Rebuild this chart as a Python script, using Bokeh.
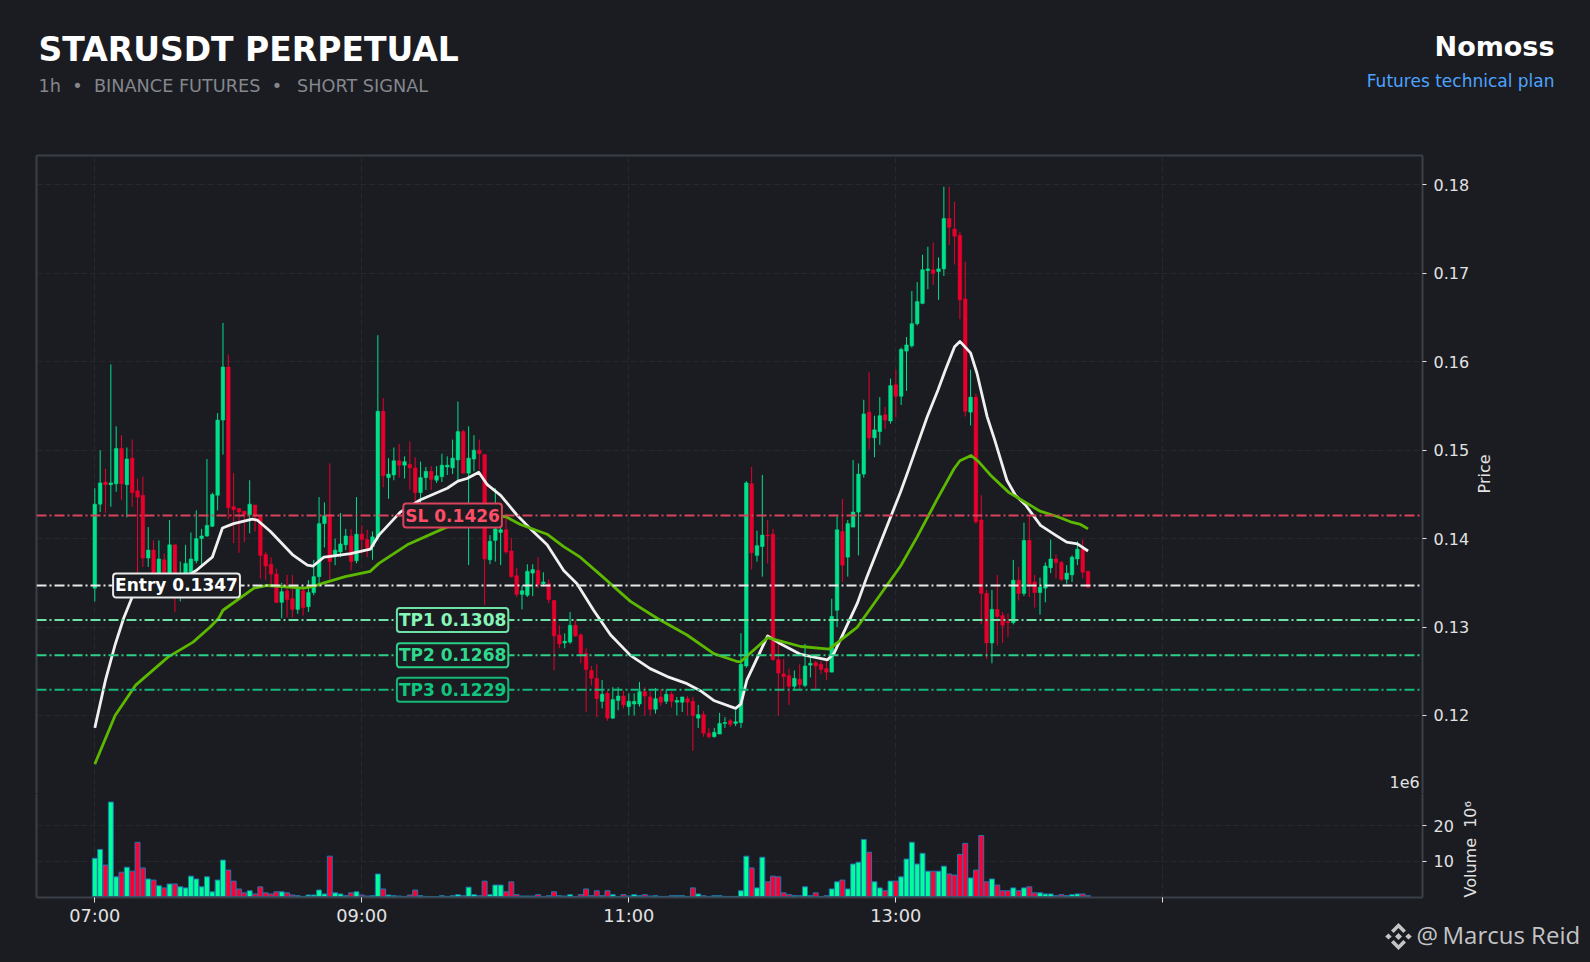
import math
from bokeh.plotting import figure
from bokeh.layouts import column
from bokeh.models import Range1d, FixedTicker, LinearAxis, Label, Span, NumeralTickFormatter, ColumnDataSource
from bokeh.core.properties import value
from bokeh.embed import file_html
from bokeh.resources import INLINE

# ---- data ----
opens = [.1344,.1439,.1464,.1461,.1462,.1502,.1461,.1491,.1454,.1449,.1378,.1387,.1360,.1376,.1350,.1393,.1345,.1355,.1358,.1375,
 .1400,.1403,.1414,.1449,.1534,.1594,.1436,.1434,.1431,.1427,.1438,.1425,.1382,.1371,.1360,.1328,.1341,.1332,.1320,.1341,
 .1323,.1339,.1357,.1417,.1427,.1381,.1385,.1393,.1403,.1375,.1405,.1399,.1391,.1402,.1544,.1469,.1472,.1488,.1483,.1484,
 .1480,.1452,.1469,.1476,.1466,.1470,.1481,.1480,.1489,.1521,.1474,.1490,.1500,.1495,.1376,.1398,.1407,.1410,.1386,.1358,
 .1337,.1336,.1361,.1364,.1349,.1349,.1330,.1291,.1282,.1283,.1302,.1291,.1270,.1251,.1242,.1216,.1225,.1197,.1217,.1222,
 .1210,.1213,.1213,.1227,.1221,.1207,.1221,.1216,.1224,.1215,.1215,.1219,.1216,.1197,.1201,.1180,.1176,.1179,.1191,.1194,
 .1191,.1192,.1256,.1462,.1381,.1391,.1404,.1405,.1263,.1247,.1245,.1233,.1241,.1234,.1257,.1260,.1258,.1253,.1249,.1319,
 .1408,.1379,.1413,.1430,.1473,.1543,.1514,.1521,.1540,.1533,.1574,.1561,.1612,.1618,.1643,.1666,.1703,.1704,.1702,.1705,
 .1762,.1750,.1743,.1671,.1543,.1560,.1421,.1338,.1282,.1320,.1313,.1306,.1305,.1353,.1338,.1398,.1351,.1339,.1344,.1367,
 .1377,.1373,.1354,.1359,.1377,.1388,.1363]
highs = [.1457,.1500,.1479,.1597,.1527,.1517,.1503,.1512,.1468,.1470,.1413,.1398,.1398,.1383,.1421,.1393,.1374,.1393,.1407,.1432,
 .1411,.1490,.1452,.1542,.1644,.1608,.1474,.1434,.1431,.1466,.1438,.1427,.1385,.1379,.1366,.1350,.1359,.1359,.1347,.1345,
 .1353,.1376,.1447,.1441,.1485,.1400,.1429,.1411,.1411,.1447,.1415,.1410,.1408,.1630,.1559,.1491,.1503,.1507,.1493,.1510,
 .1492,.1487,.1481,.1482,.1482,.1496,.1493,.1512,.1555,.1523,.1527,.1517,.1512,.1495,.1404,.1457,.1415,.1428,.1401,.1367,
 .1347,.1371,.1371,.1379,.1362,.1354,.1330,.1302,.1293,.1317,.1308,.1293,.1276,.1256,.1258,.1240,.1228,.1232,.1232,.1228,
 .1225,.1225,.1238,.1232,.1227,.1231,.1230,.1230,.1227,.1221,.1221,.1222,.1221,.1212,.1205,.1186,.1186,.1203,.1198,.1196,
 .1206,.1293,.1465,.1481,.1409,.1472,.1421,.1411,.1283,.1264,.1253,.1251,.1258,.1281,.1268,.1262,.1262,.1262,.1332,.1425,
 .1445,.1421,.1489,.1485,.1557,.1588,.1539,.1560,.1549,.1581,.1591,.1616,.1628,.1680,.1690,.1721,.1730,.1735,.1718,.1798,
 .1798,.1781,.1747,.1713,.1591,.1564,.1449,.1342,.1342,.1359,.1317,.1315,.1376,.1368,.1418,.1425,.1359,.1356,.1373,.1399,
 .1382,.1375,.1370,.1381,.1397,.1399,.1364]
lows = [.1329,.1430,.1429,.1436,.1453,.1444,.1424,.1436,.1355,.1368,.1368,.1350,.1350,.1348,.1340,.1317,.1329,.1345,.1345,.1372,
 .1368,.1402,.1413,.1432,.1495,.1422,.1395,.1384,.1396,.1406,.1408,.1355,.1353,.1347,.1327,.1310,.1311,.1311,.1315,.1313,
 .1317,.1336,.1346,.1390,.1354,.1370,.1379,.1387,.1364,.1372,.1383,.1379,.1376,.1398,.1458,.1445,.1466,.1469,.1468,.1455,
 .1440,.1440,.1455,.1455,.1463,.1464,.1472,.1473,.1466,.1474,.1370,.1476,.1478,.1325,.1371,.1374,.1370,.1383,.1356,.1334,
 .1320,.1334,.1335,.1344,.1346,.1327,.1251,.1276,.1276,.1281,.1289,.1259,.1204,.1234,.1198,.1208,.1194,.1196,.1206,.1208,
 .1200,.1200,.1210,.1200,.1200,.1202,.1211,.1213,.1209,.1200,.1204,.1200,.1160,.1186,.1176,.1174,.1175,.1179,.1186,.1187,
 .1188,.1186,.1254,.1365,.1374,.1357,.1372,.1262,.1200,.1228,.1212,.1228,.1230,.1232,.1243,.1229,.1247,.1240,.1249,.1300,
 .1351,.1357,.1413,.1381,.1469,.1501,.1492,.1506,.1524,.1530,.1537,.1551,.1567,.1616,.1641,.1665,.1682,.1687,.1670,.1697,
 .1732,.1710,.1648,.1538,.1528,.1417,.1303,.1264,.1259,.1279,.1282,.1289,.1303,.1330,.1335,.1334,.1322,.1314,.1328,.1361,
 .1355,.1352,.1349,.1351,.1370,.1355,.1344]
closes = [.1439,.1463,.1461,.1463,.1502,.1462,.1490,.1452,.1447,.1378,.1387,.1361,.1377,.1355,.1393,.1350,.1360,.1372,.1377,.1400,
 .1403,.1415,.1450,.1534,.1594,.1435,.1433,.1430,.1427,.1439,.1425,.1381,.1369,.1360,.1328,.1340,.1331,.1320,.1343,.1322,
 .1339,.1357,.1417,.1426,.1374,.1387,.1394,.1403,.1374,.1405,.1399,.1390,.1402,.1544,.1471,.1473,.1488,.1483,.1487,.1480,
 .1452,.1469,.1476,.1467,.1471,.1483,.1483,.1491,.1521,.1474,.1491,.1500,.1496,.1377,.1397,.1411,.1410,.1385,.1357,.1337,
 .1341,.1363,.1365,.1348,.1351,.1331,.1290,.1281,.1284,.1302,.1290,.1270,.1252,.1242,.1219,.1224,.1197,.1218,.1222,.1212,
 .1216,.1216,.1227,.1222,.1207,.1219,.1215,.1224,.1216,.1217,.1221,.1215,.1200,.1201,.1180,.1176,.1181,.1191,.1192,.1190,
 .1193,.1258,.1463,.1384,.1392,.1404,.1403,.1263,.1248,.1244,.1233,.1242,.1235,.1256,.1259,.1256,.1252,.1249,.1312,.1410,
 .1370,.1417,.1430,.1473,.1541,.1514,.1523,.1539,.1534,.1573,.1561,.1614,.1619,.1643,.1668,.1704,.1705,.1700,.1705,.1762,
 .1752,.1742,.1670,.1544,.1560,.1419,.1338,.1282,.1320,.1312,.1302,.1305,.1353,.1338,.1398,.1349,.1339,.1345,.1369,.1377,
 .1373,.1354,.1361,.1379,.1388,.1362,.1345]
volumes = [10.8,13.3,8.9,26.6,5.6,6.9,8.3,7.2,15.3,8.1,5.0,4.7,3.1,2.5,3.6,3.6,2.8,2.5,5.8,5.0,
 2.8,5.6,1.4,4.7,10.3,7.5,4.4,2.2,1.1,1.7,.8,2.8,1.1,.8,1.4,1.4,1.1,.5,.3,.1,
 .5,.5,1.9,.8,11.4,1.1,.8,.3,1.1,1.4,.5,.2,.3,6.4,2.2,.5,.3,.2,.1,.5,
 1.9,.3,.1,.05,.05,.3,.1,.3,.6,.3,2.7,.6,.3,4.4,.6,3.3,3.3,1.4,4.2,.6,
 .2,.2,.2,.6,.1,.3,1.4,.3,.2,.6,.1,.6,2.2,.3,1.7,.3,1.7,.6,.1,.6,
 .2,.6,.3,.6,.2,.3,.1,.1,.3,.3,.3,.1,2.5,.8,.3,.1,.3,.3,.1,.1,
 .1,1.7,11.4,8.1,2.5,11.1,4.2,5.8,5.6,1.1,.6,.3,.3,2.8,.3,1.1,.1,.3,2.2,4.2,
 4.7,2.2,9.2,9.7,16.1,12.5,4.2,2.5,1.7,4.4,4.4,5.6,10.6,15.3,9.2,12.2,7.2,7.2,7.2,8.6,
 6.4,6.1,11.9,15.0,5.3,7.5,17.2,4.2,5.0,3.3,1.7,1.7,2.5,1.7,2.5,2.8,1.1,1.1,.8,.8,
 .3,.6,.3,.6,.8,.8,.3]
white_x = [0,2,3.8,5.4,7,10,14,17,19,22,23.9,26,29.5,30.4,32.9,37,39.8,40.9,42.9,44.1,47.9,51.6,53.2,57.2,61,66,68,69.7,71.9,73.5,76,79,81.6,84.7,87.8,90.3,93.4,96.6,100.3,104,107.2,110.9,113.4,115.9,120,121,122.1,126,128.4,132.2,137.2,138.4,142.8,144.6,150.9,152.4,155.9,157.9,159.3,161,162,164,165.2,167.1,168.5,170.8,172.4,174.3,177.1,179.9,182,184,186]
white_y = [.1186,.1240,.1280,.1310,.1334,.1345,.1350,.1356,.1364,.1379,.1412,.1417,.1422,.1421,.1408,.1382,.1370,.1369,.1379,.1380,.1383,.1388,.1404,.1430,.1444,.1457,.1465,.1468,.1475,.1461,.1449,.1427,.1411,.1393,.1364,.1349,.1319,.1291,.1268,.1253,.1244,.1236,.1228,.1217,.1208,.1213,.1240,.1290,.1281,.1269,.1263,.1270,.1327,.1357,.1453,.1478,.1538,.1568,.1591,.1617,.1623,.1610,.1587,.1538,.1512,.1466,.1449,.1438,.1415,.1404,.1396,.1394,.1386]
green_x = [0,3.8,7.6,13.7,18.4,21.6,23.2,24,29.8,32.3,39.1,41,42.9,46.9,51.6,53.2,58.5,65.9,71.6,76.9,79.7,84.7,87.8,90.9,94.7,100.3,105.3,110.9,115.9,120.3,121,126,132.2,137.5,142.8,150.9,154,157.7,160.9,162,164.1,165.5,167.7,171.2,174.3,177,180.2,182.7,184.6,186]
green_y = [.1145,.1200,.1234,.1266,.1283,.1300,.1310,.1319,.1344,.1347,.1344,.1346,.1350,.1357,.1363,.1372,.1393,.1413,.1426,.1425,.1416,.1405,.1391,.1379,.1359,.1329,.1310,.1291,.1270,.1261,.1261,.1288,.1278,.1275,.1300,.1369,.1402,.1444,.1479,.1488,.1494,.1487,.1472,.1452,.1441,.1431,.1425,.1419,.1416,.1411]
x_tick_pos = [0,50,100,150,200]
x_tick_labels = ["07:00","09:00","11:00","13:00",""]
price_ticks = [.12,.13,.14,.15,.16,.17,.18]
volume_ticks = [10,20]
levels = [("SL 0.1426",.1426,67.0,"#d8425c","#ff4d68"),
          ("Entry 0.1347",.1347,15.3,"#e8e8e8","#ffffff"),
          ("TP1 0.1308",.1308,67.0,"#6fe3a5","#86f5b8"),
          ("TP2 0.1268",.1268,67.0,"#2dcf88","#2fd98e"),
          ("TP3 0.1229",.1229,67.0,"#14b878","#12c47e")]

BG = "#1a1c21"; FRAME = "#3b4048"; GRID = "#26282d"; TXT = "#e2e2e2"
UP = "#00e08b"; DOWN = "#e8002d"; VUP = "#00ff99"; VDOWN = "#ff0033"
W = 1590
FONT = "DejaVu Sans"
NB = "\u00a0"
x = list(range(len(opens)))
is_up = [c >= o for o, c in zip(opens, closes)]
src = ColumnDataSource(dict(x=x, o=opens, h=highs, l=lows, c=closes, v=volumes,
    top=[max(a, b) for a, b in zip(opens, closes)], bot=[min(a, b) for a, b in zip(opens, closes)],
    col=[UP if u else DOWN for u in is_up], vcol=[VUP if u else VDOWN for u in is_up]))
xr = Range1d(-10.92, 248.63)

def common(fig):
    fig.background_fill_color = BG
    fig.border_fill_color = BG
    fig.outline_line_color = None
    fig.xgrid.ticker = FixedTicker(ticks=x_tick_pos)
    for g in (fig.xgrid, fig.ygrid):
        g.grid_line_color = GRID
        g.grid_line_dash = "6 3"
        g.grid_line_width = 1
    ax = fig.right[0]
    ax.axis_line_color = FRAME
    ax.axis_line_width = 2
    ax.major_tick_line_color = TXT
    ax.major_tick_out = 4
    ax.major_tick_in = 0
    ax.minor_tick_line_color = None
    ax.major_label_text_color = TXT
    ax.major_label_text_font = FONT
    ax.major_label_text_font_size = "16px"
    ax.major_label_standoff = 7
    ax.axis_label_text_color = TXT
    ax.axis_label_text_font = FONT
    ax.axis_label_text_font_style = "normal"
    ax.axis_label_text_font_size = "16px"
    ax.axis_label_orientation = math.pi / 2
    ax.axis_label_align = "start"
    left = LinearAxis(ticker=FixedTicker(ticks=[]), axis_line_color=FRAME, axis_line_width=2,
                      major_tick_line_color=None, minor_tick_line_color=None, major_label_text_color=None)
    fig.add_layout(left, "left")
    return ax

def blank(h, y0, y1):
    fig = figure(width=W, height=h, x_range=Range1d(0, W), y_range=Range1d(y1, y0), output_backend="svg", toolbar_location=None,
                 x_axis_location=None, y_axis_location=None, min_border=0)
    fig.grid.visible = False
    fig.outline_line_color = None
    return fig

def put(fig, text, px, py, size, color, style="normal", align="left", font=FONT, base="alphabetic"):
    fig.text(x=[px], y=[py], text=[text], text_color=color, text_font=value(font), text_font_size=value(size),
             text_font_style=style, text_align=align, text_baseline=base)

# ---- header ----
p0 = blank(153, 0, 153)
p0.background_fill_color = BG
p0.border_fill_color = BG
put(p0, "STARUSDT PERPETUAL", 38, 48.8, "33px", "#ffffff", "bold")
sep = NB * 2 + "\u2022" + NB * 2
put(p0, "1h" + sep + "BINANCE" + NB + "FUTURES" + sep + "\u2009" + "SHORT" + NB + "SIGNAL", 38, 85.4, "17.7px", "#84878d")
put(p0, "Nomoss", 1554, 46, "27px", "#ffffff", "bold", "right")
put(p0, "Futures technical plan", 1554, 80, "17px", "#4da3ff", "normal", "right")

# ---- price panel ----
p1 = figure(width=W, height=640, x_range=xr, y_range=Range1d(.11118, .18332), output_backend="svg", toolbar_location=None,
            x_axis_location="above", y_axis_location="right", min_border_left=36, min_border_right=168,
            min_border_top=2, min_border_bottom=0)
ax1 = common(p1)
p1.xaxis.ticker = FixedTicker(ticks=[])
p1.xaxis.axis_line_color = FRAME
p1.xaxis.axis_line_width = 2
p1.xaxis.major_tick_line_color = None
p1.xaxis.minor_tick_line_color = None
p1.xaxis.major_label_text_color = None
ax1.ticker = FixedTicker(ticks=price_ticks)
ax1.formatter = NumeralTickFormatter(format="0.00")
ax1.axis_label = NB * 59 + "Price"
ax1.axis_label_standoff = 12
p1.ygrid.ticker = FixedTicker(ticks=price_ticks)

p1.segment("x", "l", "x", "h", source=src, line_color="col", line_width=1)
p1.vbar("x", 0.68, "bot", "top", source=src, fill_color="col", line_color="col", line_width=0.5)
p1.line(white_x, white_y, line_color="#f0f0f0", line_width=2.8, line_join="round")
p1.line(green_x, green_y, line_color="#5cb800", line_width=2.8, line_join="round")
for name, lv, lx, lc, tc in levels:
    p1.add_layout(Span(location=lv, dimension="width", line_color=lc, line_width=2, line_dash="10 3 2 3"))
for name, lv, lx, lc, tc in levels:
    p1.add_layout(Label(x=lx, y=lv, text=name, text_color=tc, text_font=FONT, text_font_style="bold",
                        text_font_size="17px", text_align="center", text_baseline="middle",
                        background_fill_color=BG, border_line_color=lc, border_line_width=2,
                        padding=2, border_radius=3))
put(p1, "1e6", 248.1, .1125, "16px", TXT, "normal", "right", FONT, "middle")

# ---- volume panel ----
p2 = figure(width=W, height=135, x_range=xr, y_range=Range1d(-.2, 29), output_backend="svg", toolbar_location=None,
            x_axis_location="below", y_axis_location="right", min_border_left=36, min_border_right=168,
            min_border_top=0, min_border_bottom=28)
ax2 = common(p2)
p2.xaxis.ticker = FixedTicker(ticks=x_tick_pos)
p2.xaxis.major_label_overrides = dict(zip(x_tick_pos, x_tick_labels))
p2.xaxis.axis_line_color = FRAME
p2.xaxis.axis_line_width = 2
p2.xaxis.major_tick_line_color = TXT
p2.xaxis.major_tick_out = 5
p2.xaxis.major_tick_in = 0
p2.xaxis.minor_tick_line_color = None
p2.xaxis.major_label_text_color = TXT
p2.xaxis.major_label_text_font = FONT
p2.xaxis.major_label_text_font_size = "17.8px"
p2.xaxis.major_label_standoff = 2
ax2.ticker = FixedTicker(ticks=volume_ticks)
ax2.axis_label = "Volume" + NB + NB + "10\u2076"
ax2.axis_label_standoff = 14
p2.ygrid.ticker = FixedTicker(ticks=volume_ticks)
p2.vbar("x", 0.92, 0, "v", source=src, fill_color="vcol", line_color="#1f77b4", line_width=1)

# ---- footer: transparent, pulled up over the axis margin ----
p3 = blank(70, 892, 962)
p3.background_fill_color = None
p3.border_fill_color = None
p3.margin = (-36, 0, 0, 0)
put(p3, "@", 1416, 934.2, "24px", "#c4c4c4", font="Open Sans")
put(p3, "Marcus" + NB + "Reid", 1442, 934.2, "24px", "#c4c4c4", font="Open Sans")
cx, cy = 1398, 936
logo_parts = [[(0, -3.5), (3.5, 0), (0, 3.5), (-3.5, 0)],
              [(-10, -3), (-13.3, 0), (-10, 3), (-6.8, 0)],
              [(10, -3), (13.3, 0), (10, 3), (6.8, 0)],
              [(0, -13.5), (-7.5, -6), (-4.8, -3.6), (0, -8.4), (4.8, -3.6), (7.5, -6)],
              [(0, 13.5), (-7.5, 6), (-4.8, 3.6), (0, 8.4), (4.8, 3.6), (7.5, 6)]]
p3.patches([[cx + a for a, b in part] for part in logo_parts], [[cy + b for a, b in part] for part in logo_parts],
           fill_color="#c4c4c4", line_color=None)

p = column(column(p0), p1, p2, column(p3), spacing=0)
html = file_html(p, INLINE).replace("<head>", "<head><style>html,body{background:%s;overflow:hidden;}</style>" % BG, 1)
open("out.html", "w").write(html)
